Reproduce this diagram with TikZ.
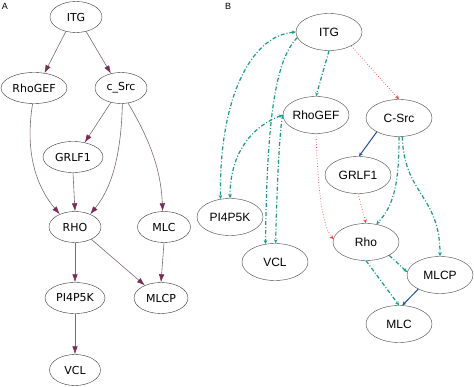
\documentclass[tikz,border=0pt]{standalone}
\usepackage{fontspec}
\setmainfont{Liberation Sans}
\newfontfamily\grafont{DejaVu Sans}
\usepackage{tikz}
\usetikzlibrary{shapes.geometric,arrows.meta}
\definecolor{edgegray}{HTML}{7A6A75}
\definecolor{tipmaroon}{HTML}{7B2B57}
\definecolor{dashteal}{HTML}{1B9A85}
\definecolor{dotred}{HTML}{E0413F}
\definecolor{solidblue}{HTML}{1F4E9C}

\begin{document}
\begin{tikzpicture}[x=1pt,y=-1pt,
        anode/.style={draw=black!80, ellipse, minimum height=31pt, inner sep=0pt, font=\grafont\fontsize{11}{13}\selectfont},
        bnode/.style={draw=black!75, ellipse, minimum width=66pt, minimum height=37pt, inner sep=0pt, font=\fontsize{12}{14}\selectfont},
        aedge/.style={draw=edgegray, line width=0.6pt, -{Latex[length=8pt,width=5.5pt,color=tipmaroon]}},
        tealedge/.style={draw=dashteal, line width=1.2pt, dash pattern=on 4pt off 2pt on 1pt off 2pt, -{Stealth[length=4pt,width=3.5pt]}},
        rededge/.style={draw=dotred, line width=0.7pt, dotted, -{Stealth[length=4pt,width=3.5pt]}},
        blueedge/.style={draw=solidblue, line width=1pt, -{Stealth[length=4pt,width=3.5pt]}}]
        \useasboundingbox (0,0) rectangle (474,387);
        \node[font=\fontsize{9}{10}\selectfont] (labA) at (5,6) {A};
        \node[font=\fontsize{9}{10}\selectfont] (labB) at (228,6) {B};

        \node[anode, minimum width=52pt] (itgA) at (76,17) {ITG};
        \node[anode, minimum width=66pt] (rhogefA) at (34,88) {RhoGEF};
        \node[anode, minimum width=52pt] (csrcA) at (121,88) {c\_Src};
        \node[anode, minimum width=60pt] (grlfA) at (73,157) {GRLF1};
        \node[anode, minimum width=52pt] (rhoA) at (75,227) {RHO};
        \node[anode, minimum width=53pt] (mlcA) at (164,227) {MLC};
        \node[anode, minimum width=60pt] (pipA) at (75,298) {PI4P5K};
        \node[anode, minimum width=54pt] (mlcpA) at (161,298) {MLCP};
        \node[anode, minimum width=51pt] (vclA) at (75,370) {VCL};
        \draw[aedge] (itgA.235) -- (rhogefA.55);
        \draw[aedge] (itgA.305) -- (csrcA.125);
        \draw[aedge] (csrcA.235) -- (grlfA.51);
        \draw[aedge] (grlfA.south) -- (rhoA.north);
        \draw[aedge] (rhogefA.265) .. controls (25,150) and (35,185) .. (rhoA.140);
        \draw[aedge] (csrcA.275) .. controls (121,160) and (110,190) .. (rhoA.40);
        \draw[aedge] (csrcA.295) .. controls (150,140) and (161,170) .. (mlcA.95);
        \draw[aedge] (rhoA.south) -- (pipA.north);
        \draw[aedge] (rhoA.-37) -- (mlcpA.142);
        \draw[aedge] (mlcA.south) -- (mlcpA.north);
        \draw[aedge] (pipA.south) -- (vclA.north);

        \node[bnode] (itgB) at (329,32) {ITG};
        \node[bnode] (rhogefB) at (316,115) {RhoGEF};
        \node[bnode] (csrcB) at (399,118) {C-Src};
        \node[bnode] (grlfB) at (358,175) {GRLF1};
        \node[bnode] (pipB) at (230,217) {PI4P5K};
        \node[bnode] (vclB) at (275,262) {VCL};
        \node[bnode] (rhoB) at (366,242) {Rho};
        \node[bnode] (mlcpB) at (440,275) {MLCP};
        \node[bnode] (mlcB) at (399,324) {MLC};
        \draw[tealedge] (itgB.south) -- (rhogefB.north);
        \draw[rededge] (itgB.-32) -- (csrcB.north);
        \draw[rededge] (rhogefB.south) .. controls (318,190) and (322,225) .. (rhoB.175);
        \draw[blueedge] (csrcB.212) -- (grlfB.87);
        \draw[rededge] (grlfB.south) -- (rhoB.north);
        \draw[tealedge] (csrcB.south) .. controls (399,180) and (395,205) .. (rhoB.60);
        \draw[tealedge] (csrcB.280) .. controls (404,195) and (440,195) .. (mlcpB.north);
        \draw[tealedge] (rhoB.-30) -- (mlcpB.175);
        \draw[tealedge] (rhoB.south) -- (mlcB.north);
        \draw[blueedge] (mlcpB.213) -- (mlcB.80);
        \draw[tealedge, {Stealth[length=4pt,width=3.5pt]}-{Stealth[length=4pt,width=3.5pt]}] (itgB.west) .. controls (250,36) and (219,100) .. (pipB.118);
        \draw[tealedge] (itgB.190) .. controls (275,60) and (267,120) .. (vclB.118);
        \draw[tealedge, {Stealth[length=4pt,width=3.5pt]}-{Stealth[length=4pt,width=3.5pt]}] (rhogefB.west) .. controls (255,125) and (230,150) .. (pipB.north);
        \draw[tealedge] (rhogefB.west) .. controls (280,125) and (277,180) .. (vclB.88);
\end{tikzpicture}
\end{document}
